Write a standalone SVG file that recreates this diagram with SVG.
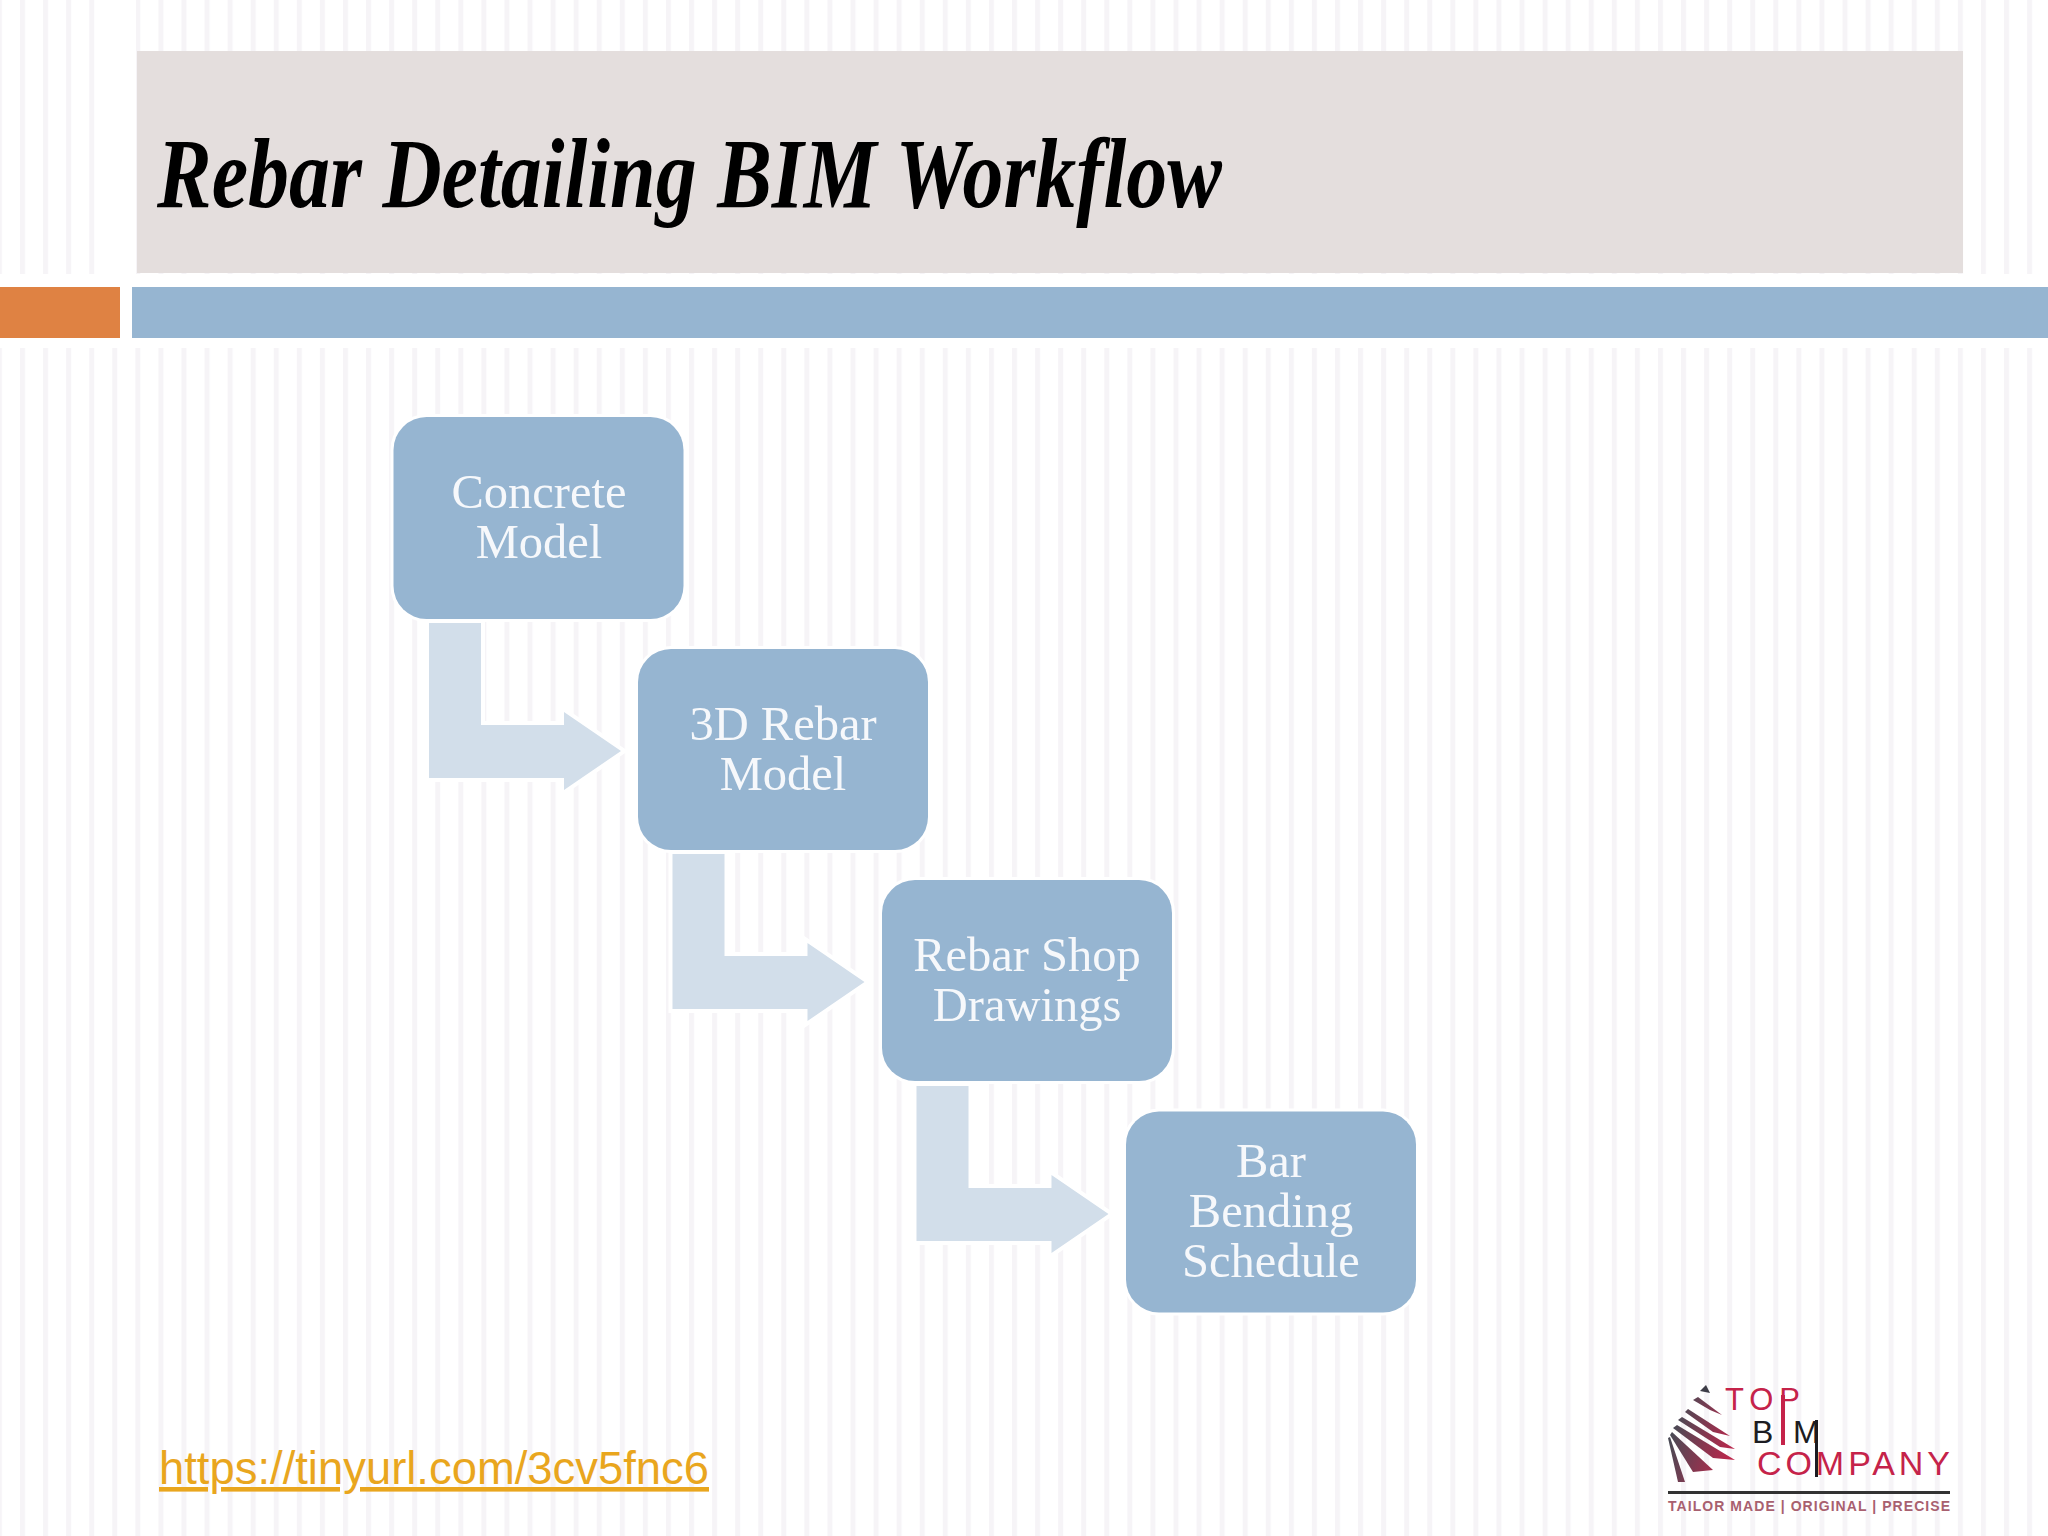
<svg xmlns="http://www.w3.org/2000/svg" width="2048" height="1536" viewBox="0 0 2048 1536">
<style>
.box{fill:#96b5d1;stroke:#fff;stroke-width:6;paint-order:stroke}
.lbl{font-family:"Liberation Serif","Times New Roman",serif;font-size:48.5px;fill:#f6f8fb;text-anchor:middle}
.arrow{fill:#d2deea;stroke:#fff;stroke-width:8;paint-order:stroke}
.bar{fill:url(#lg);stroke:none}
.lg{font-family:"Liberation Sans",Arial,sans-serif;fill:#c5234a}
.lk{font-family:"Liberation Sans",Arial,sans-serif;fill:#1c1c22}
</style>
<defs>
<pattern id="stripes" patternUnits="userSpaceOnUse" x="-3.07" y="0" width="23.07" height="40">
<rect x="0" y="0" width="5" height="40" fill="#f6f4f7"/>
</pattern>
<linearGradient id="lg" gradientUnits="userSpaceOnUse" x1="1670" y1="1440" x2="1735" y2="1460">
<stop offset="0" stop-color="#4a4a55"/><stop offset="1" stop-color="#c5234a"/>
</linearGradient>
<path id="elbow" d="M0 0H52V102H135V89L192 128L135 167V155H0Z"/>
</defs>
<g id="background">
<rect width="2048" height="1536" fill="#fff"/>
<rect width="2048" height="1536" fill="url(#stripes)"/>
<rect x="100" y="0" width="36" height="276" fill="#fff"/>
<rect x="0" y="274" width="2048" height="74" fill="#fff"/>
</g>
<g id="title">
<rect x="137" y="51" width="1826" height="222" fill="#e4dedd"/>
<text x="157" y="207" font-family="'Liberation Serif',serif" font-style="italic" font-weight="700" font-size="100" textLength="1065" lengthAdjust="spacingAndGlyphs" fill="#000">Rebar Detailing BIM Workflow</text>
</g>
<g id="accent-bars">
<rect x="0" y="287" width="120" height="51" fill="#df8243"/>
<rect x="132" y="287" width="1916" height="51" fill="#96b5d1"/>
</g>
<g id="connectors">
<use href="#elbow" x="429" y="623" class="arrow"/>
<use href="#elbow" x="672.5" y="854" class="arrow"/>
<use href="#elbow" x="916.5" y="1086" class="arrow"/>
</g>
<g id="node-concrete-model">
<rect class="box" x="393.5" y="417" width="290" height="202" rx="33"/>
<text class="lbl" x="539" y="508">Concrete</text>
<text class="lbl" x="539" y="558">Model</text>
</g>
<g id="node-3d-rebar-model">
<rect class="box" x="638" y="649" width="290" height="201" rx="33"/>
<text class="lbl" x="783" y="740">3D Rebar</text>
<text class="lbl" x="783" y="790">Model</text>
</g>
<g id="node-rebar-shop-drawings">
<rect class="box" x="882" y="880" width="290" height="201" rx="33"/>
<text class="lbl" x="1027" y="971">Rebar Shop</text>
<text class="lbl" x="1027" y="1021">Drawings</text>
</g>
<g id="node-bar-bending-schedule">
<rect class="box" x="1126" y="1111.5" width="290" height="201" rx="33"/>
<text class="lbl" x="1271" y="1177">Bar</text>
<text class="lbl" x="1271" y="1227">Bending</text>
<text class="lbl" x="1271" y="1277">Schedule</text>
</g>
<g id="link">
<text x="159" y="1484" font-family="'Liberation Sans',Arial,sans-serif" font-size="46" textLength="550" lengthAdjust="spacingAndGlyphs" fill="#e9a61e" text-decoration="underline">https://tinyurl.com/3cv5fnc6</text>
</g>
<g id="logo">
<path d="M1700 1391L1706 1385L1710 1393Z" fill="#3c3c46"/>
<path class="bar" d="M1693 1400L1698 1397L1722 1415L1710 1410Z"/>
<path class="bar" d="M1685 1412L1688 1409L1730 1436L1713 1432Z"/>
<path class="bar" d="M1678 1420L1682 1417L1735 1449L1720 1447Z"/>
<path class="bar" d="M1673 1428L1677 1425L1735 1460L1713 1458Z"/>
<path class="bar" d="M1670 1435L1672 1432L1713 1470L1693 1472Z"/>
<path class="bar" d="M1668 1438L1670 1437L1685 1482L1678 1482Z"/>
<text class="lg" x="1725" y="1410" font-size="31" textLength="75" lengthAdjust="spacing">TOP</text>
<rect x="1781" y="1395" width="4" height="50" fill="#c5234a"/>
<text class="lk" x="1752" y="1443" font-size="32">B</text>
<text class="lk" x="1793" y="1443" font-size="32">M</text>
<rect x="1815" y="1420" width="3" height="57" fill="#1c1c22"/>
<text class="lg" x="1757" y="1475" font-size="34" textLength="193" lengthAdjust="spacing">COMPANY</text>
<rect x="1668" y="1491" width="282" height="3" fill="#333"/>
<text x="1668" y="1511" font-family="'Liberation Sans',sans-serif" font-size="14" font-weight="700" textLength="282" lengthAdjust="spacing" fill="#a8606f">TAILOR MADE | ORIGINAL | PRECISE</text>
</g>
</svg>
